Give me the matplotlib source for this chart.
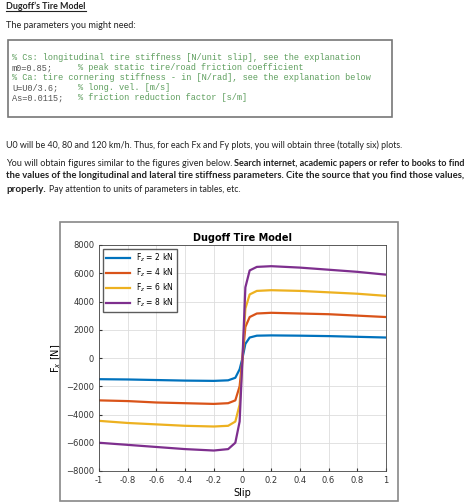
import matplotlib
matplotlib.use("Agg")
import matplotlib.pyplot as plt
from matplotlib.patches import Rectangle

slip = [-1, -0.8, -0.6, -0.4, -0.2, -0.1, -0.05, -0.02, 0, 0.02, 0.05, 0.1, 0.2, 0.4, 0.6, 0.8, 1]
fx_2kN = [-1500, -1520, -1560, -1600, -1620, -1580, -1400, -800, 0, 1000, 1450, 1580, 1600, 1580, 1550, 1500, 1450]
fx_4kN = [-3000, -3050, -3150, -3200, -3250, -3200, -3000, -2000, 0, 2200, 2900, 3150, 3200, 3150, 3100, 3000, 2900]
fx_6kN = [-4450, -4600, -4700, -4800, -4850, -4800, -4500, -3300, 0, 3500, 4500, 4750, 4800, 4750, 4650, 4550, 4400]
fx_8kN = [-6000, -6150, -6300, -6450, -6550, -6450, -6000, -4500, 0, 5000, 6200, 6450, 6500, 6400, 6250, 6100, 5900]
labels = [r"F$_z$ = 2 kN", r"F$_z$ = 4 kN", r"F$_z$ = 6 kN", r"F$_z$ = 8 kN"]
colors = ["#0072BD", "#D95319", "#EDB120", "#7E2F8E"]

W, H = 474, 504
fig = plt.figure(figsize=(W/100, H/100), dpi=100)
fig.patch.set_facecolor("white")
renderer = fig.canvas.get_renderer()

def fx(px): return px / W
def fy(py): return 1 - py / H

def fit_text(x0, x1, y, s, bold=False):
    t = fig.text(fx(x0), fy(y), s, family="Lato", fontsize=7, color="#222222", va="center",
                 fontweight="bold" if bold else "normal")
    w = t.get_window_extent(renderer).width
    t.set_fontsize(7 * (x1 - x0) / w)
    return t

fit_text(6, 86, 6, "Dugoff’s Tire Model", bold=True)
fig.add_artist(plt.Line2D([fx(6), fx(86)], [fy(11), fy(11)], color="#222222", lw=0.8))
fit_text(6, 135, 26, "The parameters you might need:")

fig.add_artist(Rectangle((fx(8), fy(117)), fx(384), fy(40) - fy(117), fill=False,
                         edgecolor="#777777", lw=1.2, transform=fig.transFigure))
green = "#5f9f5f"
mono = dict(family="Liberation Mono", fontsize=6.2, va="center")
code_lines = [
    (None, "% Cs: longitudinal tire stiffness [N/unit slip], see the explanation"),
    ("m0=0.85;", "% peak static tire/road friction coefficient"),
    (None, "% Ca: tire cornering stiffness - in [N/rad], see the explanation below"),
    ("U=U0/3.6;", "% long. vel. [m/s]"),
    ("As=0.0115;", "% friction reduction factor [s/m]"),
]
ys = [58, 68, 78, 88, 98]
for y, (code, com) in zip(ys, code_lines):
    if code is None:
        fig.text(fx(12), fy(y), com, color=green, **mono)
    else:
        fig.text(fx(12), fy(y), code, color="#555555", **mono)
        fig.text(fx(78), fy(y), com, color=green, **mono)

fit_text(6, 405, 145, "U0 will be 40, 80 and 120 km/h. Thus, for each Fx and Fy plots, you will obtain three (totally six) plots.")
fit_text(6, 232, 164, "You will obtain figures similar to the figures given below.")
fit_text(234, 467, 164, "Search internet, academic papers or refer to books to find", bold=True)
fit_text(6, 467, 176, "the values of the longitudinal and lateral tire stiffness parameters. Cite the source that you find those values,", bold=True)
fit_text(6, 46, 189, "properly.", bold=True)
fit_text(49, 242, 189, "Pay attention to units of parameters in tables, etc.")

fig.add_artist(Rectangle((fx(60), fy(501)), fx(338), fy(222) - fy(501), fill=False,
                         edgecolor="#888888", lw=1.2, transform=fig.transFigure))

ax = fig.add_axes([fx(99), fy(471), fx(287), fy(245) - fy(471)])
for ys_, lab, c in zip([fx_2kN, fx_4kN, fx_6kN, fx_8kN], labels, colors):
    ax.plot(slip, ys_, color=c, lw=1.6, label=lab)
ax.set_xlim(-1, 1)
ax.set_ylim(-8000, 8000)
ax.set_xticks([-1, -0.8, -0.6, -0.4, -0.2, 0, 0.2, 0.4, 0.6, 0.8, 1])
ax.set_xticklabels(["-1", "-0.8", "-0.6", "-0.4", "-0.2", "0", "0.2", "0.4", "0.6", "0.8", "1"])
ax.set_yticks(range(-8000, 8001, 2000))
ax.grid(True, color="#dddddd", lw=0.6)
ax.tick_params(labelsize=6, colors="#333333", length=2, direction="in")
ax.set_xlabel("Slip", fontsize=7, labelpad=2)
ax.set_ylabel(r"F$_x$ [N]", fontsize=7, labelpad=2)
ax.set_title("Dugoff Tire Model", fontsize=7, fontweight="bold", pad=3)
for s in ax.spines.values():
    s.set_color("#444444"); s.set_linewidth(0.6)
ax.legend(loc="upper left", fontsize=5.5, frameon=True, fancybox=False, edgecolor="#333333",
          handlelength=3.2, borderpad=0.4, labelspacing=0.3)

fig.savefig("out.png", dpi=100)
